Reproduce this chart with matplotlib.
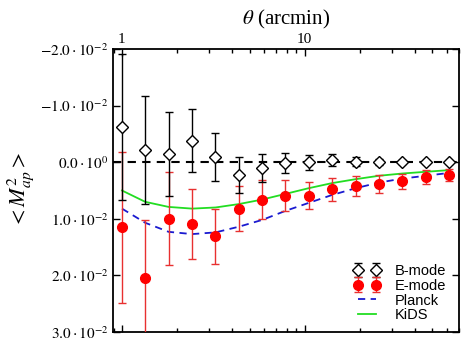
import matplotlib
matplotlib.use("Agg")
import matplotlib.pyplot as plt
import numpy as np
from matplotlib.ticker import FixedLocator, FixedFormatter, LogLocator, NullFormatter

plt.rcParams['font.family'] = ['Liberation Serif', 'DejaVu Serif']
plt.rcParams['mathtext.fontset'] = 'stix'

theta = [1.0, 1.34, 1.80, 2.42, 3.25, 4.36, 5.85, 7.85, 10.5, 14.1, 19.0, 25.5, 34.2, 45.9, 61.6]

# B-mode
b_val = [-0.0063, -0.0022, -0.0014, -0.0038, -0.0009, 0.0023, 0.0010, 0.0001,
         0.0, -0.0004, -0.0001, 0.0, 0.0, 0.0, 0.0]
b_err = [0.0129, 0.0095, 0.0074, 0.0056, 0.0042, 0.0032, 0.0025, 0.0018,
         0.0013, 0.0010, 0.0008, 0.0005, 0.0004, 0.0003, 0.0003]

# E-mode
e_val = [0.0115, 0.0205, 0.0100, 0.0109, 0.0131, 0.0082, 0.0066, 0.0059,
         0.0059, 0.0048, 0.0042, 0.0038, 0.0034, 0.0026, 0.0023]
e_err = [0.0133, 0.0103, 0.0082, 0.0062, 0.0049, 0.0040, 0.0034, 0.0028,
         0.0024, 0.0020, 0.0017, 0.0016, 0.0014, 0.0012, 0.0011]

# model curves
kids = [0.0050, 0.0070, 0.0079, 0.0082, 0.0080, 0.0074, 0.0066, 0.0056,
        0.0046, 0.0037, 0.0030, 0.0024, 0.0020, 0.0017, 0.0014]
planck = [0.0082, 0.0107, 0.0123, 0.0127, 0.0124, 0.0114, 0.0102, 0.0086,
          0.0072, 0.0058, 0.0046, 0.0036, 0.0029, 0.0024, 0.0019]

yticks = [-0.02, -0.01, 0.0, 0.01, 0.02, 0.03]
ytick_labels = [r'$-2.0\cdot10^{-2}$', r'$-1.0\cdot10^{-2}$', r'$0.0\cdot10^{0}$',
                r'$1.0\cdot10^{-2}$', r'$2.0\cdot10^{-2}$', r'$3.0\cdot10^{-2}$']

fig = plt.figure(figsize=(4.74, 3.47), dpi=100)
ax = fig.add_axes([0.2384, 0.0432, 0.7300, 0.8156])

ax.axhline(0.0, color='black', ls='--', lw=1.5, dashes=(4, 3), zorder=1)
kl, = ax.plot(theta, kids, color='#22dd22', lw=1.3, label='KiDS', zorder=2)
pl, = ax.plot(theta, planck, color='#1a1ad0', lw=1.3, ls='--', dashes=(4, 3), label='Planck', zorder=2)
eb = ax.errorbar(theta, e_val, yerr=e_err, fmt='o', color='red', ms=7, ecolor='#e83030',
                 elinewidth=1, capsize=3, label='E-mode', zorder=3)
bb = ax.errorbar(theta, b_val, yerr=b_err, fmt='D', mfc='white', mec='black', color='black',
                 ms=6, mew=1, elinewidth=1, capsize=3, label='B-mode', zorder=4)

ax.set_xscale('log')
ax.set_xlim(0.893, 70)
ax.set_ylim(0.03, -0.02)

ax.xaxis.set_major_locator(FixedLocator([1, 10]))
ax.xaxis.set_major_formatter(FixedFormatter(['1', '10']))
ax.xaxis.set_minor_locator(LogLocator(base=10, subs=np.arange(2, 10)))
ax.xaxis.set_minor_formatter(NullFormatter())
ax.xaxis.tick_top()
ax.xaxis.set_label_position('top')
ax.set_yticks(yticks)
ax.set_yticklabels(ytick_labels)

ax.tick_params(which='both', direction='in', top=True, bottom=True, left=True, right=True,
               labelsize=11, width=1)
ax.tick_params(which='major', length=5)
ax.tick_params(which='minor', length=3)
ax.tick_params(axis='x', pad=2)
for s in ax.spines.values():
    s.set_linewidth(1.3)

ax.set_xlabel(r'$\theta$ (arcmin)', fontsize=15, labelpad=6)
ax.set_ylabel(r'$<M_{ap}^2>$', fontsize=16, labelpad=3)

ax.legend([bb, eb, pl, kl], ['B-mode', 'E-mode', 'Planck', 'KiDS'], loc='lower right',
          frameon=False, numpoints=2, handlelength=1.8, handletextpad=1.0, labelspacing=0.05,
          bbox_to_anchor=(1.0, -0.012), prop={'family': 'Liberation Sans', 'size': 10.5})

fig.savefig('out.png', dpi=100)
